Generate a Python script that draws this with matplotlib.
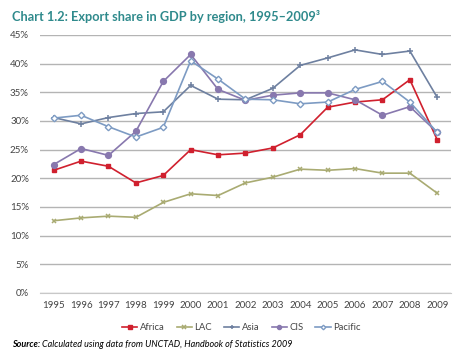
import numpy as np
import matplotlib.pyplot as plt

plt.rcParams['font.family'] = ['Lato', 'DejaVu Sans']

years = np.arange(1995, 2010)

africa  = [21.4, 23.0, 22.1, 19.2, 20.5, 25.0, 24.1, 24.4, 25.3, 27.6, 32.4, 33.3, 33.7, 37.2, 26.7]
lac     = [12.6, 13.1, 13.4, 13.2, 15.8, 17.3, 17.0, 19.2, 20.2, 21.6, 21.4, 21.7, 20.9, 20.9, 17.4]
asia    = [30.6, 29.5, 30.6, 31.3, 31.6, 36.2, 33.8, 33.7, 35.7, 39.7, 41.0, 42.4, 41.6, 42.2, 34.1]
cis     = [22.4, 25.2, 24.0, 28.2, 36.9, 41.6, 35.5, 33.6, 34.5, 34.9, 34.9, 33.7, 31.0, 32.5, 28.0]
pacific = [30.5, 31.0, 29.0, 27.2, 28.9, 40.5, 37.3, 33.8, 33.7, 33.0, 33.3, 35.5, 36.9, 33.3, 28.0]

fig = plt.figure(figsize=(4.74, 3.61), dpi=100)
ax = fig.add_axes([0.0844, 0.1884, 0.867, 0.7147])

ax.plot(years, africa, color='#d0202e', lw=1.2, marker='s', ms=3.2, label='Africa')
ax.plot(years, lac, color='#a9ab72', lw=1.2, marker='x', ms=3.5, mew=1.1, label='LAC')
ax.plot(years, asia, color='#6e80a0', lw=1.2, marker='+', ms=4, mew=1.1, label='Asia')
ax.plot(years, cis, color='#8878ae', lw=1.2, marker='o', ms=4.2, label='CIS')
ax.plot(years, pacific, color='#7d9bc3', lw=1.2, marker='D', ms=3.3,
        mfc='white', mew=1, label='Pacific')

ax.set_xlim(1994.5, 2009.5)
ax.set_ylim(0, 45)
ax.set_yticks(np.arange(0, 46, 5))
ax.set_yticklabels([f'{v}%' for v in range(0, 46, 5)])
ax.set_xticks(years)
ax.yaxis.grid(True, color='#b4b4b4', lw=1)
ax.set_axisbelow(True)
for s in ['top', 'right', 'left']:
    ax.spines[s].set_visible(False)
ax.spines['bottom'].set_color('#c8c8c8')
ax.tick_params(axis='both', length=0, labelsize=7, colors='#444444')
ax.tick_params(axis='x', pad=6)
ax.tick_params(axis='y', pad=8)

ax.legend(loc='upper center', bbox_to_anchor=(0.49, -0.085), ncol=5, frameon=False,
          fontsize=6.8, handlelength=1.6, columnspacing=1.3, handletextpad=0.25,
          labelcolor='#444444', markerscale=0.7)

fig.text(0.025, 0.955, 'Chart 1.2: Export share in GDP by region, 1995\u20132009\u00b3',
         color='#2f8a8c', fontsize=9.2, fontweight='bold', va='center')

src = fig.text(0.025, 0.045, 'Source:', fontsize=6.5, fontweight='bold', style='italic', va='center')
fig.canvas.draw()
bb = src.get_window_extent().transformed(fig.transFigure.inverted())
fig.text(bb.x1 + 0.004, 0.045, 'Calculated using data from UNCTAD, Handbook of Statistics 2009',
         fontsize=6.5, style='italic', va='center')

fig.savefig('out.png', dpi=100)
